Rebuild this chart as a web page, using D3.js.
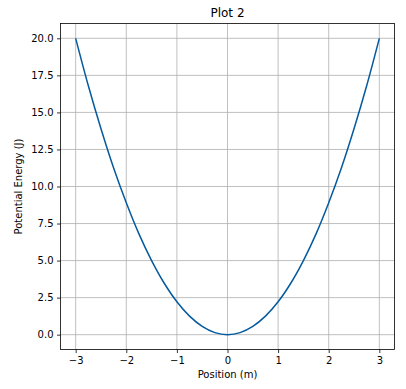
<!DOCTYPE html>
<html>
<head>
<meta charset="utf-8">
<script src="https://cdn.jsdelivr.net/npm/d3@7"></script>
<style>
  body { margin: 0; background: #fff; }
  svg { font-family: "DejaVu Sans", sans-serif; }
</style>
</head>
<body>
<svg id="chart" width="406" height="389"></svg>
<script>
// values
const positions = [-3, -2.75, -2.5, -2.25, -2, -1.75, -1.5, -1.25, -1, -0.75, -0.5, -0.25, 0,
                   0.25, 0.5, 0.75, 1, 1.25, 1.5, 1.75, 2, 2.25, 2.5, 2.75, 3];
const energy = [20, 16.8, 13.9, 11.25, 8.9, 6.8, 5.0, 3.47, 2.22, 1.25, 0.56, 0.14, 0,
                0.14, 0.56, 1.25, 2.22, 3.47, 5.0, 6.8, 8.9, 11.25, 13.9, 16.8, 20];
const xTicks = [-3, -2, -1, 0, 1, 2, 3];
const yTicks = [0, 2.5, 5, 7.5, 10, 12.5, 15, 17.5, 20];

const margin = { left: 60.5, right: 11.5, top: 23.5, bottom: 39.5 };
const width = 406 - margin.left - margin.right;
const height = 389 - margin.top - margin.bottom;

const svg = d3.select('#chart');
const g = svg.append('g').attr('transform', `translate(${margin.left},${margin.top})`);

const x = d3.scaleLinear().domain([-3.3, 3.3]).range([0, width]);
const y = d3.scaleLinear().domain([-1, 21]).range([height, 0]);

// grid
g.append('g').selectAll('line').data(xTicks).enter().append('line')
  .attr('x1', d => x(d)).attr('x2', d => x(d))
  .attr('y1', 0).attr('y2', height)
  .attr('stroke', '#b0b0b0').attr('stroke-width', 0.8);
g.append('g').selectAll('line').data(yTicks).enter().append('line')
  .attr('x1', 0).attr('x2', width)
  .attr('y1', d => y(d)).attr('y2', d => y(d))
  .attr('stroke', '#b0b0b0').attr('stroke-width', 0.8);

// axes
const xAxis = g.append('g').attr('transform', `translate(0,${height})`)
  .call(d3.axisBottom(x).tickValues(xTicks).tickSize(3.5).tickPadding(3.5)
    .tickFormat(d => d < 0 ? '\u2212' + Math.abs(d) : d));
const yAxis = g.append('g')
  .call(d3.axisLeft(y).tickValues(yTicks).tickSize(3.5).tickPadding(3.5)
    .tickFormat(d3.format('.1f')));
[xAxis, yAxis].forEach(a => {
  a.select('.domain').remove();
  a.selectAll('text').attr('font-size', 10).attr('fill', '#000')
    .attr('font-family', '"DejaVu Sans", sans-serif');
  a.selectAll('line').attr('stroke', '#000').attr('stroke-width', 0.8);
});

// frame
g.append('rect').attr('width', width).attr('height', height)
  .attr('fill', 'none').attr('stroke', '#000').attr('stroke-width', 0.8);

// curve
const line = d3.line()
  .x((d, i) => x(positions[i]))
  .y(d => y(d))
  .curve(d3.curveCatmullRom);
g.append('path').datum(energy)
  .attr('d', line)
  .attr('fill', 'none')
  .attr('stroke', '#045a9e')
  .attr('stroke-width', 1.5);

// labels
svg.append('text').attr('x', margin.left + width / 2).attr('y', 17)
  .attr('text-anchor', 'middle').attr('font-size', 12).text('Plot 2');
svg.append('text').attr('x', margin.left + width / 2).attr('y', 378)
  .attr('text-anchor', 'middle').attr('font-size', 10).text('Position (m)');
svg.append('text')
  .attr('transform', `translate(22,${margin.top + height / 2}) rotate(-90)`)
  .attr('text-anchor', 'middle').attr('font-size', 10).text('Potential Energy (J)');
</script>
</body>
</html>
